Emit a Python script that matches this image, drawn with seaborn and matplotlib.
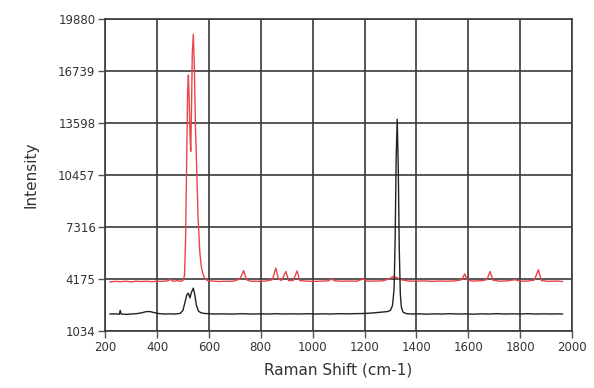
import matplotlib
matplotlib.use("Agg")
import matplotlib.pyplot as plt
import seaborn as sns
import pandas as pd

# ---- data ----
red_x = [218, 240, 260, 280, 300, 320, 340, 360, 380, 400, 420, 440, 454, 462, 480, 490,
         500, 506, 510, 514, 518, 521, 524, 527, 530, 533, 536, 540, 544, 548, 553, 558,
         565, 571, 578, 585, 595, 620, 640, 660, 680, 700, 720, 734, 745, 760, 790, 820,
         845, 858, 868, 880, 897, 907, 925, 940, 950, 980, 1010, 1040, 1060, 1073, 1085,
         1110, 1140, 1170, 1196, 1210, 1240, 1270, 1295, 1312, 1325, 1340, 1370, 1400,
         1430, 1460, 1490, 1520, 1550, 1575, 1586, 1597, 1620, 1650, 1672, 1684, 1695,
         1720, 1750, 1780, 1800, 1830, 1855, 1870, 1882, 1910, 1940, 1964]
red_y = [4020, 4050, 4030, 4060, 4020, 4060, 4040, 4060, 4030, 4060, 4050, 4080, 4160, 4050,
         4100, 4050, 4100, 4400, 6500, 11000, 15500, 16500, 15000, 13000, 11900, 14500,
         17800, 18960, 17000, 13500, 10900, 8000, 5800, 4900, 4450, 4200, 4100, 4060, 4040,
         4060, 4050, 4080, 4200, 4700, 4150, 4060, 4050, 4070, 4150, 4850, 4200, 4100, 4650,
         4100, 4100, 4680, 4100, 4060, 4050, 4070, 4080, 4200, 4080, 4060, 4070, 4060, 4200,
         4060, 4070, 4080, 4200, 4350, 4280, 4150, 4070, 4060, 4080, 4050, 4070, 4060, 4080,
         4150, 4500, 4120, 4070, 4090, 4150, 4650, 4120, 4060, 4080, 4150, 4060, 4070, 4130,
         4750, 4100, 4050, 4070, 4040]

black_x = [218, 240, 255, 258, 262, 280, 300, 320, 340, 360, 375, 390, 410, 430, 450, 470,
           490, 500, 508, 515, 521, 527, 533, 540, 546, 552, 560, 570, 585, 600, 620, 650,
           680, 700, 730, 760, 800, 830, 860, 890, 920, 950, 980, 1010, 1040, 1070, 1100,
           1130, 1160, 1190, 1220, 1250, 1270, 1290, 1300, 1308, 1314, 1318, 1322, 1326,
           1330, 1334, 1338, 1342, 1348, 1360, 1380, 1410, 1440, 1470, 1500, 1530, 1560,
           1590, 1620, 1650, 1680, 1710, 1740, 1770, 1800, 1830, 1860, 1890, 1920, 1945, 1964]
black_y = [2080, 2090, 2070, 2300, 2080, 2060, 2080, 2100, 2150, 2230, 2220, 2160, 2100, 2080,
           2090, 2080, 2120, 2300, 2800, 3250, 3340, 3050, 3400, 3640, 3200, 2600, 2250, 2150,
           2110, 2100, 2080, 2090, 2080, 2080, 2100, 2080, 2090, 2080, 2100, 2080, 2090, 2080,
           2100, 2080, 2090, 2080, 2100, 2090, 2100, 2110, 2130, 2170, 2200, 2230, 2300, 2600,
           3600, 6500, 11500, 13830, 11000, 6000, 3300, 2500, 2200, 2110, 2080, 2090, 2070,
           2090, 2080, 2100, 2080, 2090, 2070, 2090, 2080, 2100, 2080, 2090, 2080, 2100, 2080,
           2090, 2080, 2090, 2080]

x_ticks = [200, 400, 600, 800, 1000, 1200, 1400, 1600, 1800, 2000]
y_ticks = [1034, 4175, 7316, 10457, 13598, 16739, 19880]

df = pd.concat([
    pd.DataFrame({"x": red_x, "y": red_y, "s": "red"}),
    pd.DataFrame({"x": black_x, "y": black_y, "s": "black"}),
], ignore_index=True)

sns.set_style("white")
plt.rcParams["font.family"] = ["DejaVu Sans"]

fig = plt.figure(figsize=(5.94, 3.88), dpi=100)
ax = fig.add_axes([0.177, 0.146, 0.786, 0.805])

sns.lineplot(data=df, x="x", y="y", hue="s", palette={"red": "#e8454a", "black": "#222222"},
             estimator=None, sort=False, linewidth=1.0, legend=False, ax=ax)

ax.set_xlim(200, 2000)
ax.set_ylim(1034, 19880)
ax.set_xticks(x_ticks)
ax.set_yticks(y_ticks)
ax.set_xticklabels([str(v) for v in x_ticks], fontsize=8.5, color="#333333")
ax.set_yticklabels([str(v) for v in y_ticks], fontsize=8.5, color="#333333")
ax.grid(True, color="#3a3a3a", linewidth=1.2)
ax.set_axisbelow(True)
for sp in ax.spines.values():
    sp.set_color("#3a3a3a")
    sp.set_linewidth(1.2)
ax.tick_params(axis="both", direction="out", length=5, width=1, color="#555555", pad=2,
               left=True, bottom=True)
ax.set_xlabel("Raman Shift (cm-1)", fontsize=11, color="#333333", labelpad=6)
ax.set_ylabel("Intensity", fontsize=11, color="#333333", labelpad=14)

fig.savefig("out.png", dpi=100)
